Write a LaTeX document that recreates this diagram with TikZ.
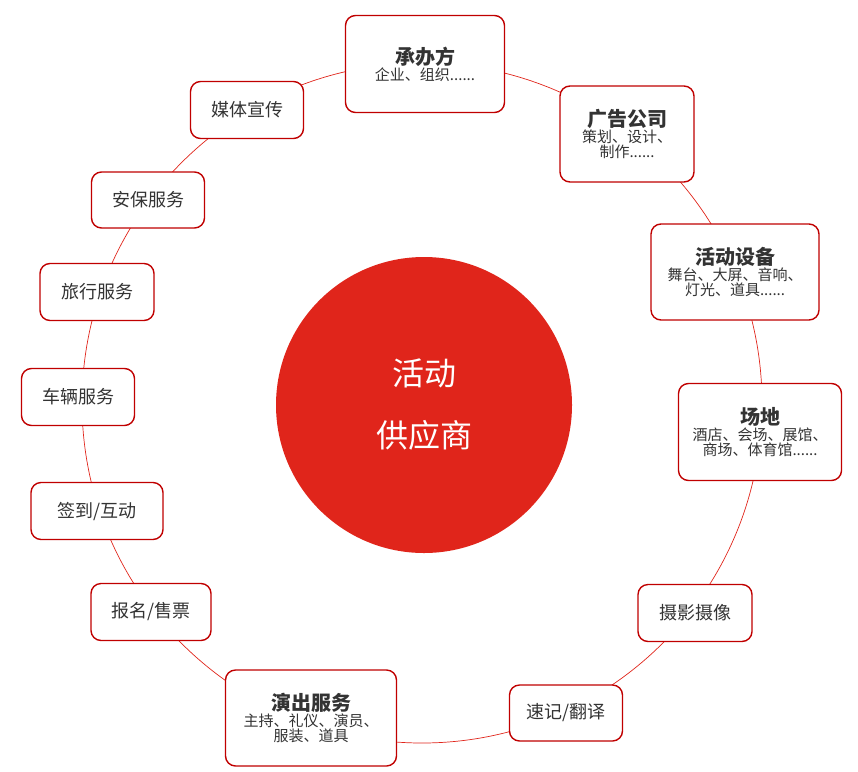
\documentclass[tikz,border=0pt]{standalone}
\usepackage{fontspec}
\setmainfont{Noto Sans CJK SC}
\newcommand{\tsz}{\fontsize{20}{26}\selectfont\bfseries}
\newcommand{\ssz}{\fontsize{15}{26}\selectfont\mdseries}
\begin{document}
\begin{tikzpicture}[x=1pt,y=-1pt,
  box/.style={draw=boxred,line width=1.4pt,fill=white,rounded corners=10pt,text=txt,align=center,inner sep=0pt},
  simple/.style={box,font=\fontsize{18}{22}\selectfont},
]
\definecolor{boxred}{HTML}{C00000}
\definecolor{txt}{HTML}{333333}
\definecolor{core}{HTML}{E0251B}
\useasboundingbox (0,0) rectangle (858,771);
\draw[core,line width=0.7pt] (422,403) circle[radius=340];
\node[circle,fill=core,minimum size=296pt,inner sep=0pt,text=white,align=center,font=\fontsize{32}{62}\selectfont] (c) at (424,405) {活动\\供应商};
\node[box,minimum width=159pt,minimum height=97pt] (a) at (425,64) {\tsz 承办方\\\ssz 企业、组织......};
\node[box,minimum width=134pt,minimum height=96pt] (b) at (627,134) {\tsz 广告公司\\\ssz 策划、设计、\\\ssz 制作......};
\node[box,minimum width=168pt,minimum height=96pt] (d) at (735,272) {\tsz 活动设备\\\ssz 舞台、大屏、音响、\\\ssz 灯光、道具......};
\node[box,minimum width=163pt,minimum height=97pt] (e) at (760,432) {\tsz 场地\\\ssz 酒店、会场、展馆、\\\ssz 商场、体育馆......};
\node[box,minimum width=171pt,minimum height=96pt] (h) at (311,718) {\tsz 演出服务\\\ssz 主持、礼仪、演员、\\\ssz 服装、道具};
\node[simple,minimum width=114pt,minimum height=57pt] (f) at (695,613) {摄影摄像};
\node[simple,minimum width=113pt,minimum height=56pt] (g) at (566,713) {速记/翻译};
\node[simple,minimum width=120pt,minimum height=57pt] (i) at (151,612) {报名/售票};
\node[simple,minimum width=132pt,minimum height=57pt] (j) at (97,511) {签到/互动};
\node[simple,minimum width=113pt,minimum height=57pt] (k) at (78,397) {车辆服务};
\node[simple,minimum width=114pt,minimum height=57pt] (l) at (97,292) {旅行服务};
\node[simple,minimum width=113pt,minimum height=56pt] (m) at (148,200) {安保服务};
\node[simple,minimum width=113pt,minimum height=57pt] (n) at (247,110) {媒体宣传};
\end{tikzpicture}
\end{document}
